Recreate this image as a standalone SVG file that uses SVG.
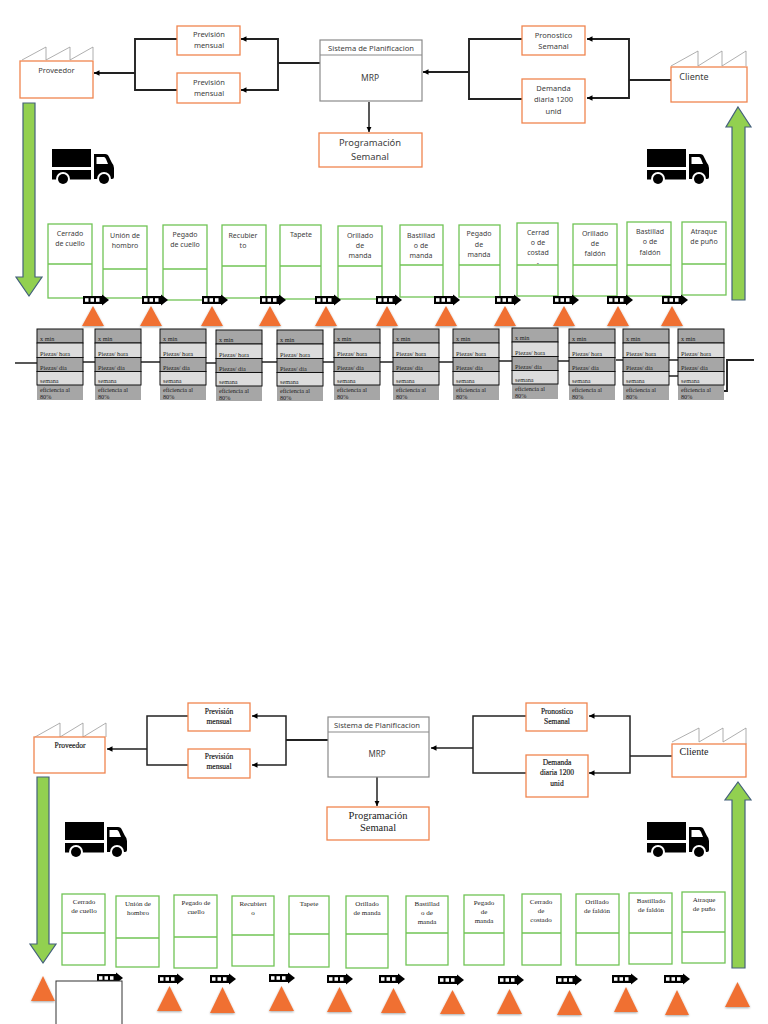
<svg xmlns="http://www.w3.org/2000/svg" xmlns:xlink="http://www.w3.org/1999/xlink" width="768" height="1024" viewBox="0 0 768 1024">
<style>
text{font-family:"Noto Sans","Liberation Sans",sans-serif;fill:#404040;text-anchor:middle}
.s{font-family:"Liberation Serif",serif;fill:#222}
.b{stroke:#222;stroke-width:.2}
.o{fill:#fff;stroke:#f0854f;stroke-width:1.3}
.m{fill:#fff;stroke:#8a8a8a;stroke-width:1.2}
.g{fill:#fff;stroke:#70c455;stroke-width:1.3}
.f{fill:none;stroke:#9a9a9a;stroke-width:.8}
.c{fill:none;stroke:#222;stroke-width:1.5}
.t{fill:none;stroke:#222;stroke-width:1.9}
.a{fill:#92d050;stroke:#44617b;stroke-width:1.2}
.l7{font-size:7px}.l8{font-size:7.5px}.l10{font-size:9.400px}.l11{font-size:10.500px}
.d{font-family:"Liberation Serif",serif;font-size:6.2px;fill:#222;text-anchor:start}
.r1{fill:#a6a6a6;stroke:#111;stroke-width:1}
.r2{fill:#dcdcdc;stroke:#111;stroke-width:1}
.r3{fill:#a6a6a6}
.tri{fill:#f07033;filter:url(#sh)}
</style>
<defs>
<marker id="h" markerUnits="userSpaceOnUse" markerWidth="7" markerHeight="7" refX="5.500" refY="3.500" orient="auto"><path d="M5.500,3.500L0,.8V6.200Z" fill="#000"/></marker>
<filter id="sh" x="-20%" y="-20%" width="140%" height="150%"><feDropShadow dx="0" dy="1" stdDeviation=".8" flood-color="#000" flood-opacity=".35"/></filter>
<g id="truck"><rect width="39" height="18"/><rect y="21" width="39" height="9.500"/><path d="M42,5H53Q56,5 57,8L60,14Q62,16 62,19V28Q62,30 60,30H42Z"/><path d="M44.500,8H52Q53,8 54,10L56,15H44.500Z" fill="#fff"/><circle cx="11" cy="30" r="7" fill="#fff"/><circle cx="11" cy="30" r="5"/><circle cx="52" cy="30" r="7" fill="#fff"/><circle cx="52" cy="30" r="5"/></g>
<g id="push"><rect y="-4" width="20" height="8"/><rect x="2" y="-1.800" width="3.500" height="3.600" fill="#fff"/><rect x="7.500" y="-1.800" width="3.500" height="3.600" fill="#fff"/><rect x="13" y="-1.800" width="3.500" height="3.600" fill="#fff"/><path d="M19,-5.500L26,0L19,5.500Z"/></g>
<g id="data"><rect class="r3" x="0" y="56" width="46" height="15"/><rect class="r1" width="46" height="14"/><rect class="r2" y="14" width="46" height="14.500"/><rect class="r1" y="28.500" width="46" height="14"/><rect class="r2" y="42.500" width="46" height="13.500"/><text class="d" x="3" y="12">x min</text><text class="d" x="3" y="26.500">Piezas/ hora</text><text class="d" x="3" y="40.500">Piezas/ día</text><text class="d" x="3" y="54">semana</text><text class="d" x="3" y="63">eficiencia al</text><text class="d" x="3" y="70">80%</text></g>
</defs>
<rect width="768" height="1024" fill="#fff"/>

<g id="connectors">
<path class="t" d="M177,39H135V90H177M135,73H94" marker-end="url(#h)"/>
<path class="t" d="M320,63H278"/><path class="t" d="M278,63V39H241" marker-end="url(#h)"/><path class="t" d="M278,63V90H241" marker-end="url(#h)"/>
<path class="c" d="M369,102V132" marker-end="url(#h)"/>
<path class="t" d="M522,39H469V99H522M469,72H423" marker-end="url(#h)"/>
<path class="t" d="M671,80H629"/><path class="t" d="M629,80V39H587" marker-end="url(#h)"/><path class="t" d="M629,80V98H587" marker-end="url(#h)"/>
<path class="c" d="M15,363H37M83,362H95M141,362H160M206,363H216M262,362H277M323,362H334M380,362H393M438,362H453M499,361H512M558,361H569M616,360H623M668,360H678M668,376H678"/>
<path class="t" d="M724,391H727V360H754"/>
<path class="c" d="M188,716H147V765H188M147,749H107" marker-end="url(#h)"/>
<path class="t" d="M328,740H286"/><path class="c" d="M286,740V716H252" marker-end="url(#h)"/><path class="c" d="M286,740V765H252" marker-end="url(#h)"/>
<path class="c" d="M377,777V806" marker-end="url(#h)"/>
<path class="c" d="M526,716H473V773H526M473,748H431" marker-end="url(#h)"/>
<path class="c" d="M672,756H630"/><path class="c" d="M630,756V716H589" marker-end="url(#h)"/><path class="c" d="M630,756V773H589" marker-end="url(#h)"/>
</g>

<g id="proveedor-1"><path class="f" d="M22,60L46,47V60L70,47V60L93,47V60"/><rect class="o" x="20" y="61" width="73" height="37"/><text class="l8" x="56.500" y="73">Proveedor</text></g>
<g id="prevision-1"><rect class="o" x="177" y="26" width="63" height="29"/><text class="l8" x="209" y="37">Previsión</text><text class="l8" x="209" y="48">mensual</text></g>
<g id="prevision-2"><rect class="o" x="177" y="73" width="63" height="30"/><text class="l8" x="209" y="85">Previsión</text><text class="l8" x="209" y="96">mensual</text></g>
<g id="mrp-1"><rect class="m" x="320" y="40" width="102" height="61"/><path class="m" d="M320,55H422"/><text x="371" y="51" font-size="7.600">Sistema de Planificacion</text><text x="370" y="81" font-size="8.500">MRP</text></g>
<g id="programacion-1"><rect class="o" x="319" y="133" width="103" height="34"/><text class="l10" x="370" y="146">Programación</text><text class="l10" x="370" y="160">Semanal</text></g>
<g id="pronostico-1"><rect class="o" x="522" y="26" width="63" height="29"/><text class="l8" x="553.500" y="38">Pronostico</text><text class="l8" x="553.500" y="49">Semanal</text></g>
<g id="demanda-1"><rect class="o" x="522" y="79" width="63" height="44"/><text class="l8" x="553.500" y="91">Demanda</text><text class="l8" x="553.500" y="102">diaria 1200</text><text class="l8" x="553.500" y="114">unid</text></g>
<g id="cliente-1"><path class="f" d="M671,66L698,51V66L722,51V66L746,51V66"/><rect class="o" x="671" y="67" width="76" height="35"/><text x="694" y="80" font-size="9">Cliente</text></g>

<path id="arrow-down-1" class="a" d="M23,103H35V277H42L29,296L16,277H23Z"/>
<path id="arrow-up-1" class="a" d="M738,107L751,127H745V300H732V127H726Z"/>
<use id="truck-1" xlink:href="#truck" x="52" y="149"/>
<use id="truck-2" xlink:href="#truck" x="647" y="149"/>

<g id="p1"><rect class="g" x="48" y="224" width="44" height="74"/><path class="g" d="M48,264H92"/><text class="l7" x="70" y="236">Cerrado</text><text class="l7" x="70" y="246">de cuello</text></g>
<g id="p2"><rect class="g" x="103" y="226" width="44" height="72"/><path class="g" d="M103,269H147"/><text class="l7" x="125" y="238">Unión de</text><text class="l7" x="125" y="248">hombro</text></g>
<g id="p3"><rect class="g" x="163" y="225" width="44" height="75"/><path class="g" d="M163,269H207"/><text class="l7" x="185" y="237">Pegado</text><text class="l7" x="185" y="247">de cuello</text></g>
<g id="p4"><rect class="g" x="222" y="225" width="44" height="73"/><path class="g" d="M222,266H266"/><text class="l7" x="243" y="238">Recubier</text><text class="l7" x="243" y="248">to</text></g>
<g id="p5"><rect class="g" x="280" y="225" width="41" height="74"/><path class="g" d="M280,266H321"/><text class="l7" x="301" y="237">Tapete</text></g>
<g id="p6"><rect class="g" x="338" y="226" width="44" height="73"/><path class="g" d="M338,266H382"/><text class="l7" x="360" y="238">Orillado</text><text class="l7" x="360" y="248">de</text><text class="l7" x="360" y="258">manda</text></g>
<g id="p7"><rect class="g" x="400" y="225" width="43" height="72"/><path class="g" d="M400,265H443"/><text class="l7" x="421" y="238">Bastillad</text><text class="l7" x="421" y="248">o de</text><text class="l7" x="421" y="258">manda</text></g>
<g id="p8"><rect class="g" x="459" y="225" width="41" height="72"/><path class="g" d="M459,265H500"/><text class="l7" x="479" y="236">Pegado</text><text class="l7" x="479" y="247">de</text><text class="l7" x="479" y="257">manda</text></g>
<g id="p9"><rect class="g" x="517" y="223" width="41" height="73"/><path class="g" d="M517,265H558"/><text class="l7" x="538" y="235">Cerrad</text><text class="l7" x="538" y="245">o de</text><text class="l7" x="538" y="255">costad</text><text class="l7" x="538" y="265">-</text></g>
<g id="p10"><rect class="g" x="573" y="224" width="44" height="72"/><path class="g" d="M573,265H617"/><text class="l7" x="595" y="236">Orillado</text><text class="l7" x="595" y="246">de</text><text class="l7" x="595" y="256">faldón</text></g>
<g id="p11"><rect class="g" x="627" y="222" width="44" height="74"/><path class="g" d="M627,265H671"/><text class="l7" x="650" y="234">Bastillad</text><text class="l7" x="650" y="244">o de</text><text class="l7" x="650" y="255">faldón</text></g>
<g id="p12"><rect class="g" x="682" y="222" width="44" height="73"/><path class="g" d="M682,264H726"/><text class="l7" x="704" y="234">Atraque</text><text class="l7" x="704" y="244">de puño</text></g>

<g id="push-1">
<use xlink:href="#push" x="83" y="300"/><use xlink:href="#push" x="142" y="300"/><use xlink:href="#push" x="202" y="300"/><use xlink:href="#push" x="260" y="300"/><use xlink:href="#push" x="315" y="300"/><use xlink:href="#push" x="376" y="300"/><use xlink:href="#push" x="434" y="300"/><use xlink:href="#push" x="495" y="300"/><use xlink:href="#push" x="553" y="300"/><use xlink:href="#push" x="607" y="300"/><use xlink:href="#push" x="662" y="300"/>
</g>
<g id="triangles-1">
<path class="tri" d="M93,306L104,326H82Z"/><path class="tri" d="M151,306L162,326H140Z"/><path class="tri" d="M212,306L223,326H201Z"/><path class="tri" d="M270,306L281,326H259Z"/><path class="tri" d="M326,306L337,326H315Z"/><path class="tri" d="M387,306L398,326H376Z"/><path class="tri" d="M446,306L457,326H435Z"/><path class="tri" d="M505,306L516,326H494Z"/><path class="tri" d="M564,306L575,326H553Z"/><path class="tri" d="M618,306L629,326H607Z"/><path class="tri" d="M672,306L683,326H661Z"/>
</g>
<g id="data-1">
<use xlink:href="#data" x="37" y="329"/><use xlink:href="#data" x="95" y="329"/><use xlink:href="#data" x="160" y="329"/><use xlink:href="#data" x="216" y="330"/><use xlink:href="#data" x="277" y="330"/><use xlink:href="#data" x="334" y="329"/><use xlink:href="#data" x="393" y="329"/><use xlink:href="#data" x="453" y="329"/><use xlink:href="#data" x="512" y="328"/><use xlink:href="#data" x="569" y="329"/><use xlink:href="#data" x="623" y="329"/><use xlink:href="#data" x="678" y="329"/>
</g>

<g id="proveedor-2"><path class="f" d="M35,737L60,723V737L83,723V737L106,723V737"/><rect class="o" x="34" y="737" width="71" height="36"/><text class="s b l8" x="70" y="748">Proveedor</text></g>
<g id="prevision-3"><rect class="o" x="188" y="703" width="62" height="28"/><text class="s b l8" x="219" y="714">Previsión</text><text class="s b l8" x="219" y="724">mensual</text></g>
<g id="prevision-4"><rect class="o" x="188" y="749" width="62" height="29"/><text class="s b l8" x="219" y="759">Previsión</text><text class="s b l8" x="219" y="769">mensual</text></g>
<g id="mrp-2"><rect class="m" x="328" y="717" width="101" height="60"/><path class="m" d="M328,732H429"/><text x="377" y="728" font-size="7.600">Sistema de Planificacion</text><text x="377" y="757" font-size="8">MRP</text></g>
<g id="programacion-2"><rect class="o" x="327" y="807" width="102" height="33"/><text class="s l11" x="378" y="819">Programación</text><text class="s l11" x="378" y="831">Semanal</text></g>
<g id="pronostico-2"><rect class="o" x="526" y="703" width="61" height="28"/><text class="s b l8" x="557" y="714">Pronostico</text><text class="s b l8" x="557" y="724">Semanal</text></g>
<g id="demanda-2"><rect class="o" x="526" y="755" width="62" height="42"/><text class="s b l8" x="557" y="765">Demanda</text><text class="s b l8" x="557" y="775">diaria 1200</text><text class="s b l8" x="557" y="786">unid</text></g>
<g id="cliente-2"><path class="f" d="M672,742L699,728V742L723,728V742L746,728V744"/><rect class="o" x="672" y="744" width="74" height="33"/><text class="s" x="694" y="755" font-size="10">Cliente</text></g>

<path id="arrow-down-2" class="a" d="M37,777H49V944H56L43,963L30,944H37Z"/>
<path id="arrow-up-2" class="a" d="M738,782L751,800H745V968H732V800H725Z"/>
<use id="truck-3" xlink:href="#truck" x="65" y="822"/>
<use id="truck-4" xlink:href="#truck" x="647" y="822"/>

<g id="q1"><rect class="g" x="62" y="894" width="43" height="71"/><path class="g" d="M62,933H105"/><text class="s l7" x="84" y="904">Cerrado</text><text class="s l7" x="84" y="913">de cuello</text></g>
<g id="q2"><rect class="g" x="116" y="896" width="43" height="71"/><path class="g" d="M116,938H159"/><text class="s l7" x="138" y="906">Unión de</text><text class="s l7" x="138" y="915">hombro</text></g>
<g id="q3"><rect class="g" x="174" y="895" width="43" height="73"/><path class="g" d="M174,937H217"/><text class="s l7" x="196" y="905">Pegado de</text><text class="s l7" x="196" y="914">cuello</text></g>
<g id="q4"><rect class="g" x="232" y="896" width="42" height="70"/><path class="g" d="M232,935H274"/><text class="s l7" x="253" y="906">Recubiert</text><text class="s l7" x="253" y="915">o</text></g>
<g id="q5"><rect class="g" x="289" y="896" width="40" height="71"/><path class="g" d="M289,934H329"/><text class="s l7" x="309" y="906">Tapete</text></g>
<g id="q6"><rect class="g" x="346" y="896" width="42" height="72"/><path class="g" d="M346,934H388"/><text class="s l7" x="367" y="906">Orillado</text><text class="s l7" x="367" y="915">de manda</text></g>
<g id="q7"><rect class="g" x="406" y="896" width="42" height="69"/><path class="g" d="M406,933H448"/><text class="s l7" x="427" y="906">Bastillad</text><text class="s l7" x="427" y="915">o de</text><text class="s l7" x="427" y="924">manda</text></g>
<g id="q8"><rect class="g" x="464" y="895" width="40" height="70"/><path class="g" d="M464,933H504"/><text class="s l7" x="484" y="905">Pegado</text><text class="s l7" x="484" y="914">de</text><text class="s l7" x="484" y="923">manda</text></g>
<g id="q9"><rect class="g" x="522" y="894" width="39" height="71"/><path class="g" d="M522,933H561"/><text class="s l7" x="541" y="904">Cerrado</text><text class="s l7" x="541" y="913">de</text><text class="s l7" x="541" y="922">costado</text></g>
<g id="q10"><rect class="g" x="576" y="894" width="43" height="71"/><path class="g" d="M576,933H619"/><text class="s l7" x="597" y="904">Orillado</text><text class="s l7" x="597" y="913">de faldón</text></g>
<g id="q11"><rect class="g" x="629" y="893" width="43" height="71"/><path class="g" d="M629,933H672"/><text class="s l7" x="651" y="903">Bastillado</text><text class="s l7" x="651" y="912">de faldón</text></g>
<g id="q12"><rect class="g" x="682" y="892" width="43" height="71"/><path class="g" d="M682,932H725"/><text class="s l7" x="704" y="902">Atraque</text><text class="s l7" x="704" y="911">de puño</text></g>

<g id="push-2">
<use xlink:href="#push" x="97" y="978"/><use xlink:href="#push" x="158" y="979"/><use xlink:href="#push" x="210" y="979"/><use xlink:href="#push" x="269" y="978"/><use xlink:href="#push" x="327" y="979"/><use xlink:href="#push" x="379" y="979"/><use xlink:href="#push" x="438" y="980"/><use xlink:href="#push" x="498" y="980"/><use xlink:href="#push" x="556" y="980"/><use xlink:href="#push" x="612" y="979"/><use xlink:href="#push" x="664" y="979"/>
</g>
<g id="triangles-2">
<path class="tri" d="M43,976L55,1001H31Z"/><path class="tri" d="M169.500,986L182,1011H157Z"/><path class="tri" d="M222.500,987L235,1013H210Z"/><path class="tri" d="M281.500,986L294,1011H269Z"/><path class="tri" d="M339.500,987L352,1012H327Z"/><path class="tri" d="M393.500,988L406,1013H381Z"/><path class="tri" d="M452.500,990L465,1014H440Z"/><path class="tri" d="M509.500,989L522,1014H497Z"/><path class="tri" d="M569.500,990L582,1015H557Z"/><path class="tri" d="M626,987L638,1012H614Z"/><path class="tri" d="M677,990L689,1015H665Z"/><path class="tri" d="M737.500,982L750,1007H725Z"/>
</g>
<rect id="white-box" x="56" y="981" width="66" height="50" fill="#fff" stroke="#333" stroke-width="1"/>
</svg>
